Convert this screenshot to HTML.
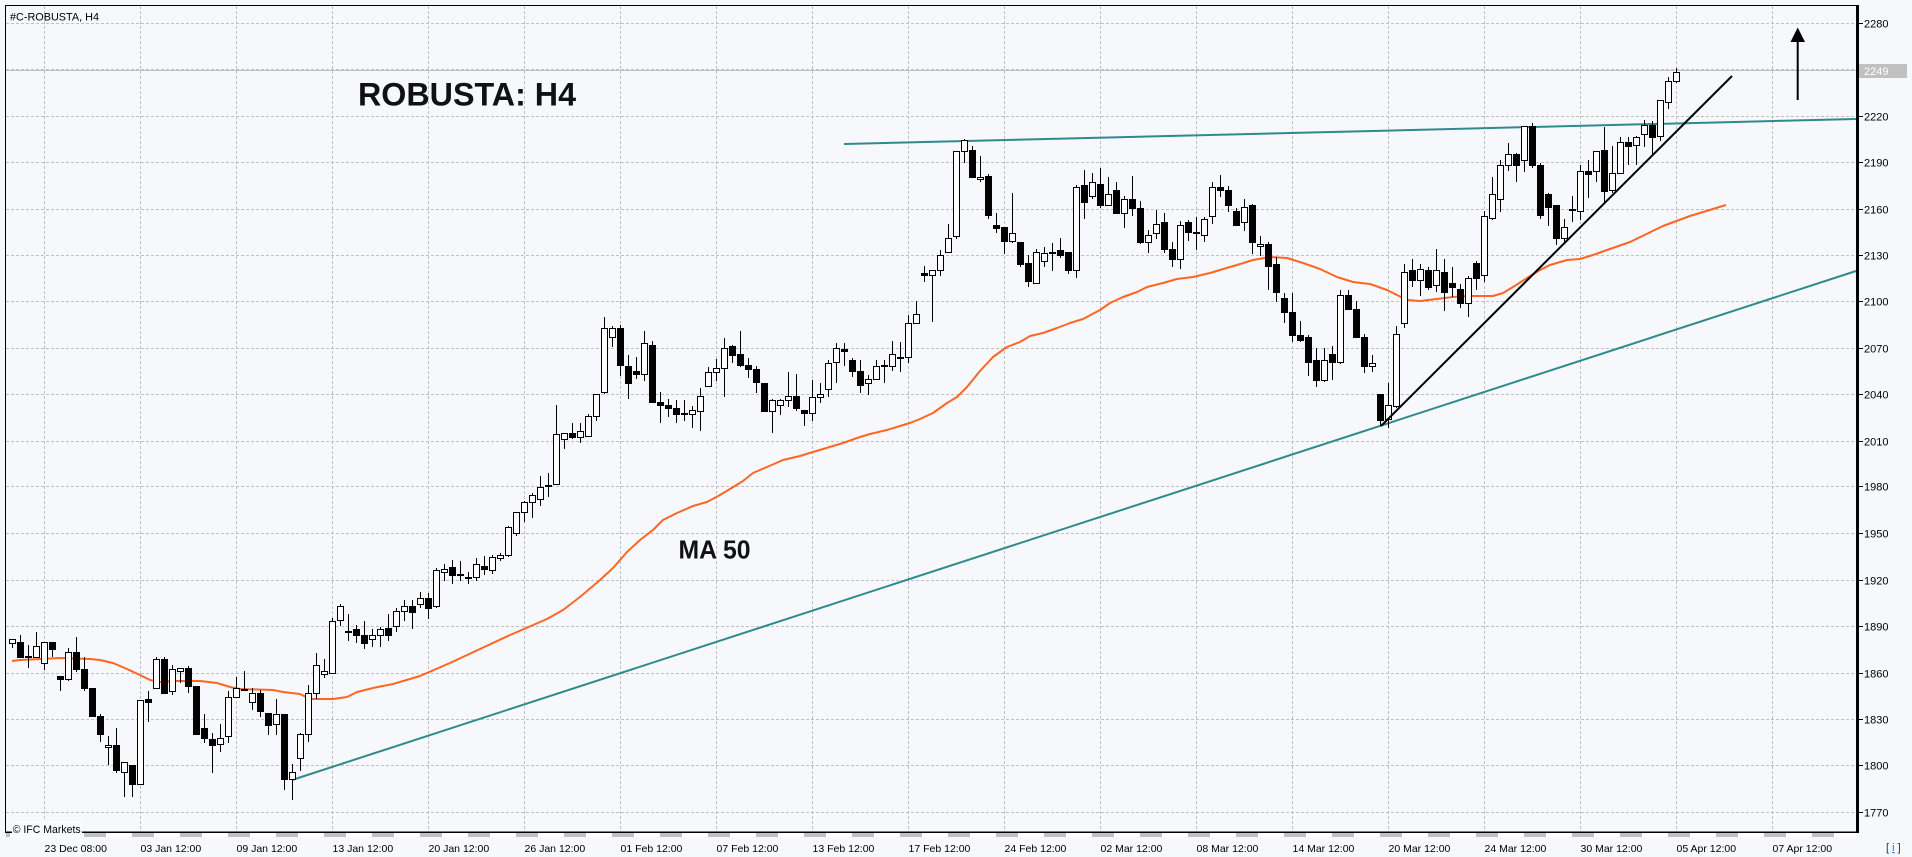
<!DOCTYPE html>
<html><head><meta charset="utf-8"><style>html,body{margin:0;padding:0;background:#F7F8FC;}svg{display:block}</style></head>
<body>
<svg xmlns="http://www.w3.org/2000/svg" width="1912" height="857" viewBox="0 0 1912 857">
<defs>
<pattern id="st" x="36" y="833" width="48" height="4" patternUnits="userSpaceOnUse"><rect x="0" y="0" width="22" height="4" fill="#C0C0C0"/></pattern>
</defs>
<rect x="0" y="0" width="1912" height="857" fill="#F7F8FC"/>
<!-- grid -->
<g stroke="#C0C0C0" stroke-width="1" stroke-dasharray="3 2" fill="none">
<path d="M6 23.5H1856M6 69.5H1856M6 116.5H1856M6 162.5H1856M6 209.5H1856M6 255.5H1856M6 301.5H1856M6 348.5H1856M6 394.5H1856M6 441.5H1856M6 486.5H1856M6 533.5H1856M6 580.5H1856M6 626.5H1856M6 673.5H1856M6 719.5H1856M6 765.5H1856M6 812.5H1856"/>
<path d="M44.5 6V832M140.5 6V832M236.5 6V832M332.5 6V832M428.5 6V832M524.5 6V832M620.5 6V832M716.5 6V832M812.5 6V832M908.5 6V832M1004.5 6V832M1100.5 6V832M1196.5 6V832M1292.5 6V832M1388.5 6V832M1484.5 6V832M1580.5 6V832M1676.5 6V832M1772.5 6V832"/>
</g>
<!-- bid line -->
<path d="M6 70.5H1856" stroke="#C0C0C0" stroke-width="1"/>
<!-- teal lines -->
<g stroke="#2E8B8B" stroke-width="2" fill="none">
<path d="M292 780L1856 271"/>
<path d="M844 144L1856 119"/>
</g>
<!-- MA 50 -->
<polyline fill="none" stroke="#FF6622" stroke-width="2" stroke-linejoin="round" points="12,661 20,660 60,658 90,659 100,660 113,663 127,669 140,675 150,680 160,682 173,681 200,681 217,683 230,687 240,689 273,690 283,692 300,694 310,699 333,699 347,697 357,692 373,688 393,684 410,679 420,676 450,663 480,649 510,635 547,619 563,610 580,597 600,580 613,568 627,552 640,540 653,530 663,520 677,513 693,506 707,502 720,495 730,489 743,481 753,473 767,467 783,460 800,456 813,452 823,449 843,443 860,437 870,434 887,430 900,426 910,423 920,419 933,413 947,403 957,397 967,387 980,371 993,357 1007,347 1020,342 1030,336 1043,333 1057,328 1070,323 1083,319 1100,310 1110,303 1123,297 1137,292 1147,287 1163,283 1177,279 1193,277 1210,273 1230,267 1237,265 1253,260 1270,257 1287,258 1303,263 1320,269 1337,277 1353,282 1370,284 1387,290 1397,295 1407,300 1420,301 1437,299 1453,297 1467,296 1480,296 1493,296 1503,293 1513,287 1527,278 1540,270 1550,265 1567,260 1580,259 1593,255 1607,250 1630,242 1663,226 1690,216 1726,205"/>
<!-- wicks -->
<path fill="none" stroke="#000" stroke-width="1" d="M12.5 639V648M20.5 635V658M28.5 645V668M36.5 632V658M44.5 642V670M52.5 642V657M60.5 676V691M68.5 648V681M76.5 637V672M84.5 657V691M92.5 688V717M100.5 714V742M108.5 736V765M116.5 728V773M124.5 763V797M132.5 765V797M140.5 700V784M148.5 691V722M156.5 657V688M164.5 657V694M172.5 665V695M180.5 668V683M188.5 666V693M196.5 686V734M204.5 714V743M212.5 733V773M220.5 724V752M228.5 691V743M236.5 677V697M244.5 671V691M252.5 688V710M260.5 690V717M268.5 713V735M276.5 699V735M284.5 714V790M292.5 764V800M300.5 733V771M308.5 685V742M316.5 653V699M324.5 659V678M332.5 618V673M340.5 604V626M348.5 614V641M356.5 625V643M364.5 621V649M372.5 629V647M380.5 627V647M388.5 614V641M396.5 608V632M404.5 600V621M412.5 600V629M420.5 592V608M428.5 593V619M436.5 568V608M444.5 564V581M452.5 560V584M460.5 561V581M468.5 572V584M476.5 558V581M484.5 556V575M492.5 555V574M500.5 553V561M508.5 526V557M516.5 512V536M524.5 501V522M532.5 493V518M540.5 476V506M548.5 473V497M556.5 405V485M564.5 433V449M572.5 423V439M580.5 423V443M588.5 414V437M596.5 394V421M604.5 317V394M612.5 326V347M620.5 325V376M628.5 355V399M636.5 357V379M644.5 331V381M652.5 341V403M660.5 392V423M668.5 399V417M676.5 400V423M684.5 400V421M692.5 406V428M700.5 388V431M708.5 367V387M716.5 359V381M724.5 338V397M732.5 345V363M740.5 331V367M748.5 358V378M756.5 366V393M764.5 383V412M772.5 399V433M780.5 399V415M788.5 372V407M796.5 374V411M804.5 410V426M812.5 380V421M820.5 383V403M828.5 360V397M836.5 343V383M844.5 343V366M852.5 358V377M860.5 360V393M868.5 375V395M876.5 360V380M884.5 360V383M892.5 341V371M900.5 342V372M908.5 315V363M916.5 301V324M924.5 266V282M932.5 270V322M940.5 250V276M948.5 224V253M956.5 151V239M964.5 139V163M972.5 146V178M980.5 156V182M988.5 174V219M996.5 213V233M1004.5 227V254M1012.5 193V243M1020.5 242V267M1028.5 255V287M1036.5 249V284M1044.5 247V267M1052.5 243V271M1060.5 238V258M1068.5 252V274M1076.5 185V278M1084.5 170V219M1092.5 173V199M1100.5 168V208M1108.5 177V206M1116.5 182V214M1124.5 196V228M1132.5 176V216M1140.5 201V244M1148.5 230V253M1156.5 210V239M1164.5 213V253M1172.5 242V267M1180.5 221V269M1188.5 220V241M1196.5 217V250M1204.5 217V242M1212.5 182V224M1220.5 175V197M1228.5 186V212M1236.5 208V226M1244.5 199V231M1252.5 204V254M1260.5 236V256M1268.5 242V290M1276.5 257V302M1284.5 293V323M1292.5 293V342M1300.5 321V342M1308.5 335V376M1316.5 348V387M1324.5 348V382M1332.5 346V380M1340.5 290V364M1348.5 290V310M1356.5 301V338M1364.5 334V373M1372.5 355V372M1380.5 394V426M1388.5 383V428M1396.5 326V408M1404.5 264V328M1412.5 259V287M1420.5 264V296M1428.5 267V290M1436.5 249V292M1444.5 259V311M1452.5 267V297M1460.5 284V308M1468.5 276V317M1476.5 261V290M1484.5 211V282M1492.5 177V220M1500.5 160V212M1508.5 143V171M1516.5 153V182M1524.5 126V172M1532.5 123V168M1540.5 163V219M1548.5 193V226M1556.5 205V245M1564.5 219V242M1572.5 196V222M1580.5 165V220M1588.5 160V198M1596.5 151V182M1604.5 127V202M1612.5 146V193M1620.5 137V174M1628.5 137V165M1636.5 136V165M1644.5 120V147M1652.5 121V154M1660.5 100V141M1668.5 77V109M1676.5 68V83"/>
<!-- white bodies -->
<path fill="#FFFFFF" stroke="#000" stroke-width="1" d="M9.5 639.5h6v4h-6zM33.5 646.5h6v11h-6zM41.5 642.5h6v21h-6zM65.5 652.5h6v27h-6zM105.5 745.5h6v2h-6zM121.5 762.5h6v10h-6zM137.5 700.5h6v84h-6zM153.5 659.5h6v29h-6zM169.5 669.5h6v22h-6zM177.5 668.5h6v3h-6zM217.5 738.5h6v6h-6zM225.5 697.5h6v39h-6zM233.5 688.5h6v9h-6zM249.5 693.5h6v9h-6zM273.5 714.5h6v10h-6zM289.5 772.5h6v7h-6zM297.5 734.5h6v24h-6zM305.5 693.5h6v41h-6zM313.5 665.5h6v28h-6zM321.5 671.5h6v3h-6zM329.5 621.5h6v52h-6zM337.5 606.5h6v14h-6zM369.5 635.5h6v4h-6zM377.5 629.5h6v6h-6zM393.5 611.5h6v15h-6zM401.5 606.5h6v5h-6zM417.5 598.5h6v6h-6zM433.5 570.5h6v36h-6zM441.5 569.5h6v3h-6zM473.5 564.5h6v13h-6zM489.5 557.5h6v13h-6zM497.5 555.5h6v3h-6zM505.5 527.5h6v28h-6zM513.5 512.5h6v21h-6zM521.5 502.5h6v10h-6zM529.5 495.5h6v7h-6zM537.5 487.5h6v12h-6zM553.5 434.5h6v50h-6zM561.5 433.5h6v6h-6zM577.5 431.5h6v6h-6zM585.5 416.5h6v20h-6zM593.5 394.5h6v22h-6zM601.5 328.5h6v64h-6zM609.5 328.5h6v9h-6zM641.5 343.5h6v31h-6zM689.5 410.5h6v4h-6zM697.5 396.5h6v15h-6zM705.5 372.5h6v14h-6zM713.5 368.5h6v4h-6zM721.5 348.5h6v20h-6zM769.5 400.5h6v11h-6zM777.5 400.5h6v5h-6zM785.5 396.5h6v4h-6zM809.5 397.5h6v16h-6zM817.5 394.5h6v3h-6zM825.5 363.5h6v26h-6zM833.5 348.5h6v14h-6zM865.5 379.5h6v4h-6zM873.5 366.5h6v13h-6zM889.5 354.5h6v12h-6zM905.5 323.5h6v34h-6zM913.5 314.5h6v9h-6zM929.5 270.5h6v5h-6zM937.5 255.5h6v15h-6zM945.5 238.5h6v14h-6zM953.5 151.5h6v85h-6zM961.5 140.5h6v11h-6zM977.5 177.5h6v2h-6zM1009.5 233.5h6v8h-6zM1033.5 252.5h6v31h-6zM1041.5 253.5h6v8h-6zM1073.5 187.5h6v83h-6zM1089.5 182.5h6v14h-6zM1105.5 194.5h6v11h-6zM1121.5 199.5h6v14h-6zM1145.5 235.5h6v7h-6zM1153.5 224.5h6v9h-6zM1177.5 225.5h6v34h-6zM1201.5 219.5h6v16h-6zM1209.5 187.5h6v29h-6zM1241.5 207.5h6v15h-6zM1257.5 244.5h6v2h-6zM1321.5 360.5h6v20h-6zM1337.5 295.5h6v67h-6zM1369.5 363.5h6v3h-6zM1385.5 405.5h6v14h-6zM1393.5 334.5h6v72h-6zM1401.5 272.5h6v51h-6zM1417.5 269.5h6v11h-6zM1433.5 270.5h6v15h-6zM1465.5 278.5h6v25h-6zM1481.5 216.5h6v59h-6zM1489.5 194.5h6v24h-6zM1497.5 165.5h6v34h-6zM1505.5 154.5h6v11h-6zM1521.5 126.5h6v34h-6zM1561.5 227.5h6v11h-6zM1577.5 171.5h6v40h-6zM1593.5 151.5h6v20h-6zM1609.5 173.5h6v17h-6zM1617.5 142.5h6v31h-6zM1633.5 137.5h6v8h-6zM1641.5 125.5h6v9h-6zM1657.5 100.5h6v36h-6zM1665.5 81.5h6v21h-6zM1673.5 72.5h6v9h-6z"/>
<!-- black bodies -->
<path fill="#000" stroke="#000" stroke-width="1" d="M17.5 642.5h6v15h-6zM25.5 656.5h6v1h-6zM49.5 642.5h6v7h-6zM57.5 676.5h6v3h-6zM73.5 652.5h6v17h-6zM81.5 669.5h6v19h-6zM89.5 688.5h6v28h-6zM97.5 716.5h6v18h-6zM113.5 745.5h6v25h-6zM129.5 765.5h6v19h-6zM145.5 699.5h6v3h-6zM161.5 659.5h6v34h-6zM185.5 668.5h6v18h-6zM193.5 686.5h6v48h-6zM201.5 728.5h6v10h-6zM209.5 739.5h6v6h-6zM241.5 689.5h6v1h-6zM257.5 693.5h6v18h-6zM265.5 713.5h6v12h-6zM281.5 714.5h6v65h-6zM345.5 631.5h6v1h-6zM353.5 629.5h6v6h-6zM361.5 635.5h6v8h-6zM385.5 628.5h6v7h-6zM409.5 606.5h6v6h-6zM425.5 598.5h6v10h-6zM449.5 567.5h6v8h-6zM457.5 574.5h6v1h-6zM465.5 577.5h6v1h-6zM481.5 566.5h6v3h-6zM545.5 485.5h6v1h-6zM569.5 433.5h6v4h-6zM617.5 328.5h6v37h-6zM625.5 366.5h6v17h-6zM633.5 371.5h6v3h-6zM649.5 345.5h6v57h-6zM657.5 402.5h6v3h-6zM665.5 405.5h6v3h-6zM673.5 408.5h6v6h-6zM681.5 413.5h6v1h-6zM729.5 346.5h6v9h-6zM737.5 354.5h6v11h-6zM745.5 365.5h6v4h-6zM753.5 369.5h6v13h-6zM761.5 383.5h6v28h-6zM793.5 396.5h6v12h-6zM801.5 410.5h6v3h-6zM841.5 349.5h6v2h-6zM849.5 360.5h6v11h-6zM857.5 371.5h6v14h-6zM881.5 365.5h6v1h-6zM897.5 357.5h6v1h-6zM921.5 273.5h6v2h-6zM969.5 150.5h6v27h-6zM985.5 176.5h6v39h-6zM993.5 225.5h6v3h-6zM1001.5 227.5h6v14h-6zM1017.5 242.5h6v22h-6zM1025.5 263.5h6v18h-6zM1049.5 252.5h6v1h-6zM1057.5 250.5h6v5h-6zM1065.5 252.5h6v18h-6zM1081.5 185.5h6v17h-6zM1097.5 184.5h6v21h-6zM1113.5 190.5h6v23h-6zM1129.5 199.5h6v9h-6zM1137.5 208.5h6v34h-6zM1161.5 222.5h6v27h-6zM1169.5 249.5h6v10h-6zM1185.5 222.5h6v10h-6zM1193.5 232.5h6v1h-6zM1217.5 187.5h6v3h-6zM1225.5 190.5h6v15h-6zM1233.5 211.5h6v14h-6zM1249.5 205.5h6v37h-6zM1265.5 244.5h6v22h-6zM1273.5 264.5h6v28h-6zM1281.5 298.5h6v14h-6zM1289.5 312.5h6v23h-6zM1297.5 335.5h6v5h-6zM1305.5 337.5h6v25h-6zM1313.5 360.5h6v20h-6zM1329.5 354.5h6v8h-6zM1345.5 295.5h6v14h-6zM1353.5 309.5h6v28h-6zM1361.5 337.5h6v29h-6zM1377.5 394.5h6v26h-6zM1409.5 270.5h6v10h-6zM1425.5 270.5h6v17h-6zM1441.5 272.5h6v20h-6zM1449.5 283.5h6v4h-6zM1457.5 289.5h6v14h-6zM1473.5 263.5h6v15h-6zM1513.5 154.5h6v11h-6zM1529.5 126.5h6v39h-6zM1537.5 165.5h6v50h-6zM1545.5 194.5h6v13h-6zM1553.5 205.5h6v33h-6zM1569.5 209.5h6v1h-6zM1585.5 171.5h6v3h-6zM1601.5 150.5h6v41h-6zM1625.5 142.5h6v4h-6zM1649.5 125.5h6v12h-6z"/>
<!-- black trendline -->
<path d="M1381 426L1732 76" stroke="#000" stroke-width="2" fill="none"/>
<!-- arrow -->
<path d="M1797.7 100V40" stroke="#000" stroke-width="2"/>
<polygon points="1797.7,27.5 1790.5,42 1805,42" fill="#000"/>
<!-- big labels -->
<text x="358" y="105.7" font-family="'Liberation Sans', Arial, sans-serif" font-size="32" font-weight="bold" fill="#111" textLength="218" lengthAdjust="spacingAndGlyphs">ROBUSTA: H4</text>
<text x="678.5" y="558.3" font-family="'Liberation Sans', Arial, sans-serif" font-size="26" font-weight="bold" fill="#111" textLength="72" lengthAdjust="spacingAndGlyphs">MA 50</text>
<!-- title -->
<text x="10" y="20.5" font-family="'Liberation Sans', Arial, sans-serif" font-size="11" fill="#000" textLength="89" lengthAdjust="spacingAndGlyphs">#C-ROBUSTA, H4</text>
<!-- bottom strip -->
<rect x="6" y="833" width="1850" height="4" fill="#FFFFFF"/>
<rect x="6" y="833" width="1850" height="4" fill="url(#st)"/>
<!-- frame -->
<path d="M5.5 5V833M5 5.5H1859" stroke="#000" stroke-width="1" fill="none"/>
<rect x="1856" y="5" width="3" height="828" fill="#000"/>
<rect x="5" y="831.5" width="1854" height="1.5" fill="#000"/>
<!-- IFC label -->
<rect x="12" y="821" width="70" height="17" fill="#FAFBFE"/>
<text x="12.7" y="833" font-family="'Liberation Sans', Arial, sans-serif" font-size="11" fill="#000" textLength="68" lengthAdjust="spacingAndGlyphs">© IFC Markets</text>
<!-- right axis ticks -->
<path stroke="#000" stroke-width="1" d="M1859 23.5H1863M1859 116.5H1863M1859 162.5H1863M1859 209.5H1863M1859 255.5H1863M1859 301.5H1863M1859 348.5H1863M1859 394.5H1863M1859 441.5H1863M1859 486.5H1863M1859 533.5H1863M1859 580.5H1863M1859 626.5H1863M1859 673.5H1863M1859 719.5H1863M1859 765.5H1863M1859 812.5H1863"/>
<g font-family="'Liberation Sans', Arial, sans-serif" font-size="11" fill="#000">
<text x="1864" y="27.5">2280</text>
<text x="1864" y="120.5">2220</text>
<text x="1864" y="166.5">2190</text>
<text x="1864" y="213.5">2160</text>
<text x="1864" y="259.5">2130</text>
<text x="1864" y="305.5">2100</text>
<text x="1864" y="352.5">2070</text>
<text x="1864" y="398.5">2040</text>
<text x="1864" y="445.5">2010</text>
<text x="1864" y="490.5">1980</text>
<text x="1864" y="537.5">1950</text>
<text x="1864" y="584.5">1920</text>
<text x="1864" y="630.5">1890</text>
<text x="1864" y="677.5">1860</text>
<text x="1864" y="723.5">1830</text>
<text x="1864" y="769.5">1800</text>
<text x="1864" y="816.5">1770</text>
</g>
<!-- bid label -->
<rect x="1859" y="64" width="48" height="14" fill="#C0C0C0"/>
<text x="1864" y="75" font-family="'Liberation Sans', Arial, sans-serif" font-size="11" fill="#FFFFFF">2249</text>
<!-- date labels -->
<g font-family="'Liberation Sans', Arial, sans-serif" font-size="10.5" fill="#000">
<text x="44.5" y="852">23 Dec 08:00</text>
<text x="140.5" y="852">03 Jan 12:00</text>
<text x="236.5" y="852">09 Jan 12:00</text>
<text x="332.5" y="852">13 Jan 12:00</text>
<text x="428.5" y="852">20 Jan 12:00</text>
<text x="524.5" y="852">26 Jan 12:00</text>
<text x="620.5" y="852">01 Feb 12:00</text>
<text x="716.5" y="852">07 Feb 12:00</text>
<text x="812.5" y="852">13 Feb 12:00</text>
<text x="908.5" y="852">17 Feb 12:00</text>
<text x="1004.5" y="852">24 Feb 12:00</text>
<text x="1100.5" y="852">02 Mar 12:00</text>
<text x="1196.5" y="852">08 Mar 12:00</text>
<text x="1292.5" y="852">14 Mar 12:00</text>
<text x="1388.5" y="852">20 Mar 12:00</text>
<text x="1484.5" y="852">24 Mar 12:00</text>
<text x="1580.5" y="852">30 Mar 12:00</text>
<text x="1676.5" y="852">05 Apr 12:00</text>
<text x="1772.5" y="852">07 Apr 12:00</text>
</g>
<text x="1886" y="851" font-family="'Liberation Sans', Arial, sans-serif" font-size="11" fill="#333">[ <tspan fill="#2F6FD0" text-decoration="underline">i</tspan> ]</text>
</svg>
</body></html>
